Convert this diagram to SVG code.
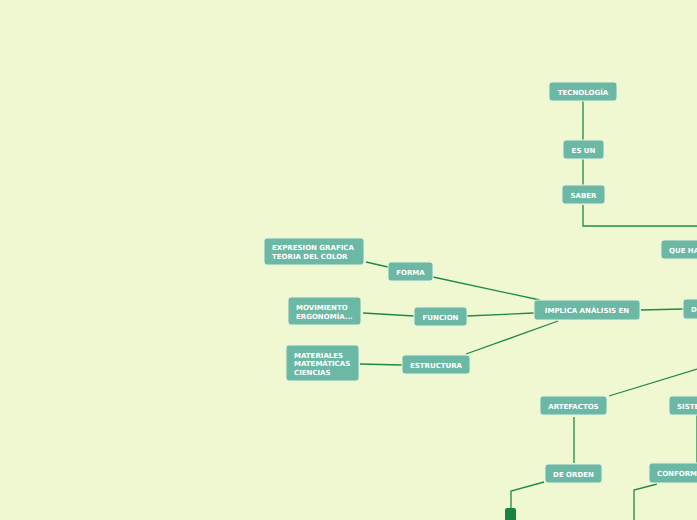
<svg xmlns="http://www.w3.org/2000/svg" width="697" height="520" viewBox="0 0 697 520">
<style>
.n rect{fill:#6bb8a5;stroke:#e6f4e0;stroke-width:1}
.n text{fill:#fff;font-family:"DejaVu Sans",sans-serif;font-weight:bold;font-size:7px}
.c path{fill:none;stroke:#1e8a4a;stroke-width:1.3}
</style>
<rect width="697" height="520" fill="#eff8d1"/>
<g class="c">
<path d="M583 101V140M583 159V185M583 205V226H697"/>
<path d="M433 277L540 300M467 316L534 313M466 354L558 321M366 262L388 267M363 313L414 316M360 364L402 365"/>
<path d="M641 310L683 309M609 396L697 369M574 417V463M544 482L511 491V510M657 484L634 490V520M697 415V463"/>
</g>
<rect x="505" y="508" width="11" height="14" rx="2" fill="#18823f"/>
<g id="tecnologia" class="n"><rect x="549" y="82" width="68" height="19" rx="3"/><text x="583" y="95" text-anchor="middle">TECNOLOGÍA</text></g>
<g id="esun" class="n"><rect x="563" y="140" width="41" height="19" rx="3"/><text x="583.5" y="153" text-anchor="middle">ES UN</text></g>
<g id="saber" class="n"><rect x="562" y="185" width="43" height="19" rx="3"/><text x="583.5" y="198" text-anchor="middle">SABER</text></g>
<g id="queha" class="n"><rect x="661" y="240" width="50" height="19" rx="3"/><text x="669" y="253">QUE HACE</text></g>
<g id="d" class="n"><rect x="683" y="299" width="40" height="20" rx="3"/><text x="691" y="312">DE</text></g>
<g id="implica" class="n"><rect x="534" y="300" width="106" height="20" rx="3"/><text x="587" y="313" text-anchor="middle">IMPLICA ANÁLISIS EN</text></g>
<g id="artefactos" class="n"><rect x="540" y="396" width="67" height="19" rx="3"/><text x="573.5" y="409" text-anchor="middle">ARTEFACTOS</text></g>
<g id="sistemas" class="n"><rect x="669" y="396" width="60" height="19" rx="3"/><text x="677" y="409">SISTEMAS</text></g>
<g id="deorden" class="n"><rect x="545" y="464" width="57" height="19" rx="3"/><text x="573.5" y="477" text-anchor="middle">DE ORDEN</text></g>
<g id="conform" class="n"><rect x="649" y="463" width="70" height="20" rx="3"/><text x="657" y="476">CONFORMAN</text></g>
<g id="forma" class="n"><rect x="388" y="262" width="45" height="19" rx="3"/><text x="410.5" y="275" text-anchor="middle">FORMA</text></g>
<g id="funcion" class="n"><rect x="414" y="307" width="53" height="19" rx="3"/><text x="440.5" y="320" text-anchor="middle">FUNCION</text></g>
<g id="estructura" class="n"><rect x="402" y="355" width="68" height="19" rx="3"/><text x="436" y="368" text-anchor="middle">ESTRUCTURA</text></g>
<g id="expresion" class="n"><rect x="264" y="238" width="100" height="27" rx="3"/><text x="272" y="250">EXPRESION GRAFICA</text><text x="272" y="259">TEORIA DEL COLOR</text></g>
<g id="movimiento" class="n"><rect x="288" y="297" width="73" height="28" rx="3"/><text x="296" y="310">MOVIMIENTO</text><text x="296" y="319">ERGONOMÍA...</text></g>
<g id="materiales" class="n"><rect x="286" y="345" width="73" height="36" rx="3"/><text x="294" y="358">MATERIALES</text><text x="294" y="366">MATEMÁTICAS</text><text x="294" y="375">CIENCIAS</text></g>
</svg>
